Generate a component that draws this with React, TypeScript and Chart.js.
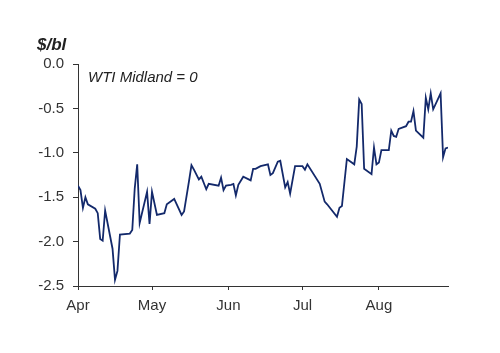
import React, { useEffect, useRef } from "react";
import { Chart, registerables } from "chart.js";

Chart.register(...registerables);

// Days counted from 1 April
const days: number[] = [
  0, 1, 2, 3, 4, 7, 8, 9, 10, 11, 14, 15, 16, 17, 21, 22, 23, 24, 25, 28, 29, 30,
  32, 35, 36, 39, 42, 43, 45, 46, 47, 49, 50, 52, 53, 57, 58, 59, 60, 62, 63, 64,
  65, 67, 70, 71, 72, 74, 77, 78, 79, 81, 82, 84, 85, 86, 88, 91, 92, 93, 98, 100,
  101, 105, 106, 107, 109, 112, 113, 114, 115, 116, 119, 120, 121, 122, 123, 126,
  127, 128, 129, 130, 133, 134, 135, 136, 137, 140, 141, 142, 143, 144, 147, 148,
  149, 150,
];
const spread: number[] = [
  -1.37, -1.42, -1.62, -1.5, -1.58, -1.63, -1.68, -1.97, -1.99, -1.65, -2.08, -2.43,
  -2.33, -1.92, -1.91, -1.87, -1.4, -1.13, -1.79, -1.44, -1.8, -1.44,
  -1.7, -1.68, -1.58, -1.52, -1.7, -1.66, -1.32, -1.14, -1.19, -1.3, -1.27, -1.41,
  -1.35, -1.37, -1.28, -1.42, -1.37, -1.36, -1.35, -1.48,
  -1.36, -1.27, -1.31, -1.18, -1.18, -1.15, -1.13, -1.25, -1.23, -1.1, -1.09, -1.39,
  -1.33, -1.46, -1.15, -1.15, -1.19, -1.13, -1.35, -1.55,
  -1.58, -1.72, -1.62, -1.6, -1.07, -1.13, -0.93, -0.4, -0.45, -1.18, -1.24, -0.94,
  -1.13, -1.11, -0.97, -0.97,
  -0.75, -0.81, -0.82, -0.73, -0.7, -0.65, -0.65, -0.53, -0.75, -0.83, -0.38, -0.51,
  -0.33, -0.51, -0.33, -1.05,
  -0.95, -0.94,
];
const monthStarts: number[] = [0, 30, 61, 91, 122];
const monthLabels: string[] = ["Apr", "May", "Jun", "Jul", "Aug"];
const yTicks: number[] = [0, -0.5, -1, -1.5, -2, -2.5];

const FONT = "'Liberation Sans', Arial, Helvetica, sans-serif";
const AXIS = "#333333";

export default function App() {
  const ref = useRef<HTMLCanvasElement | null>(null);

  useEffect(() => {
    if (!ref.current) return;
    const chart = new Chart(ref.current, {
      type: "line",
      data: {
        datasets: [
          {
            data: days.map((d, i) => ({ x: d, y: spread[i] })),
            borderColor: "#13296b",
            borderWidth: 1.8,
            pointRadius: 0,
            tension: 0,
            fill: false,
          },
        ],
      },
      options: {
        animation: false,
        responsive: false,
        maintainAspectRatio: false,
        layout: { padding: { left: 0, right: 52, top: 64, bottom: 0 } },
        plugins: { legend: { display: false }, tooltip: { enabled: false } },
        scales: {
          x: {
            type: "linear",
            min: 0,
            max: 150,
            afterBuildTicks: (scale: any) => {
              scale.ticks = monthStarts.map((v) => ({ value: v }));
            },
            afterFit: (scale: any) => {
              scale.height = 67;
            },
            ticks: {
              autoSkip: false,
              maxRotation: 0,
              padding: 7,
              color: AXIS,
              font: { family: FONT, size: 15 },
              callback: (v: any) => {
                const i = monthStarts.indexOf(Number(v));
                return i >= 0 ? monthLabels[i] : "";
              },
            },
            grid: { drawOnChartArea: false, drawTicks: true, tickLength: 4, color: AXIS },
            border: { display: true, color: AXIS, width: 1 },
          },
          y: {
            min: -2.5,
            max: 0,
            afterBuildTicks: (scale: any) => {
              scale.ticks = yTicks.map((v) => ({ value: v }));
            },
            afterFit: (scale: any) => {
              scale.width = 78;
            },
            ticks: {
              padding: 9,
              color: AXIS,
              font: { family: FONT, size: 15 },
              callback: (v: any) => Number(v).toFixed(1),
            },
            grid: { drawOnChartArea: false, drawTicks: true, tickLength: 5, color: AXIS },
            border: { display: true, color: AXIS, width: 1 },
          },
        },
      },
    });
    return () => chart.destroy();
  }, []);

  return (
    <div style={{ position: "absolute", left: 0, top: 0, width: 500, height: 353, background: "#fff" }}>
      <canvas ref={ref} width={500} height={353} style={{ width: 500, height: 353, display: "block" }} />
      <div
        style={{
          position: "absolute",
          left: 37,
          top: 36,
          fontFamily: FONT,
          fontSize: 17,
          lineHeight: "17px",
          fontWeight: "bold",
          fontStyle: "italic",
          color: "#222",
          whiteSpace: "nowrap",
        }}
      >
        $/bl
      </div>
      <div
        style={{
          position: "absolute",
          left: 88,
          top: 69,
          fontFamily: FONT,
          fontSize: 15,
          lineHeight: "15px",
          fontStyle: "italic",
          color: "#222",
          whiteSpace: "nowrap",
        }}
      >
        WTI Midland = 0
      </div>
    </div>
  );
}
